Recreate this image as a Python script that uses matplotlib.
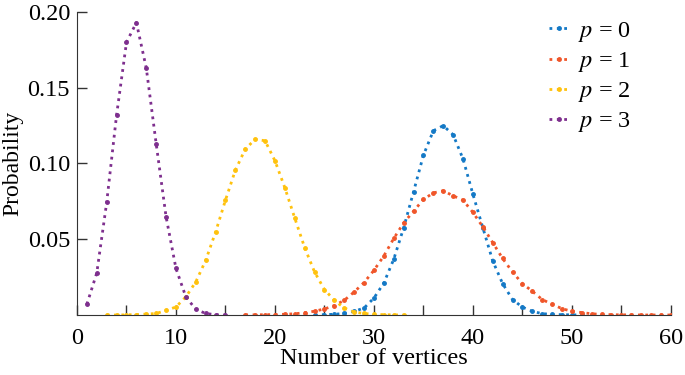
import numpy as np
import matplotlib
matplotlib.use('Agg')
import matplotlib.pyplot as plt

plt.rcParams['font.family'] = ['Liberation Serif', 'DejaVu Serif']
plt.rcParams['mathtext.fontset'] = 'stix'
plt.rcParams['font.size'] = 14

# p = 0 (blue)
x0 = list(range(24, 52))
y0 = [0.0001, 0.0002, 0.0005, 0.001, 0.0024, 0.0046, 0.0112, 0.0211, 0.0368, 0.0575,
      0.0813, 0.1055, 0.1216, 0.125, 0.119, 0.103, 0.0797, 0.0577, 0.0357, 0.0207,
      0.0102, 0.0052, 0.0024, 0.0009, 0.0004, 0.0002, 0.0001, 0.0]
# p = 1 (red)
x1 = list(range(17, 61))
y1 = [0.0001, 0.0001, 0.0002, 0.0003, 0.0005, 0.0008, 0.0015, 0.0025, 0.004, 0.0062,
      0.0097, 0.0152, 0.0214, 0.0295, 0.039, 0.0505, 0.0608, 0.0685, 0.0763, 0.0806,
      0.082, 0.0787, 0.0758, 0.0677, 0.0582, 0.0478, 0.0373, 0.0284, 0.0207, 0.0157,
      0.0102, 0.0071, 0.0042, 0.0024, 0.0016, 0.0008, 0.0004, 0.0002, 0.0001, 0.0001,
      0.0, 0.0, 0.0, 0.0]
# p = 2 (yellow)
x2 = list(range(3, 34))
y2 = [0.0, 0.0, 0.0001, 0.0003, 0.0006, 0.001, 0.003, 0.0053, 0.012, 0.0218,
      0.036, 0.0547, 0.0758, 0.0956, 0.1095, 0.116, 0.115, 0.1018, 0.084, 0.064,
      0.0445, 0.0284, 0.0168, 0.0097, 0.0046, 0.002, 0.001, 0.0005, 0.0002, 0.0001, 0.0]
# p = 3 (purple)
x3 = list(range(1, 16))
y3 = [0.0071, 0.0278, 0.0743, 0.132, 0.180, 0.193, 0.163, 0.113, 0.0648, 0.0307,
      0.0119, 0.0038, 0.001, 0.0002, 0.0]

colors = ['#1479C6', '#F0562A', '#FFC20E', '#7E2F8E']
labels = ['$p$ = 0', '$p$ = 1', '$p$ = 2', '$p$ = 3']

fig = plt.figure(figsize=(6.85, 3.75), dpi=100)
ax = fig.add_axes([0.1124, 0.16, 0.867, 0.808])

for xs, ys, c, lab in zip([x0, x1, x2, x3], [y0, y1, y2, y3], colors, labels):
    ax.plot(xs, ys, color=c, linestyle=':', linewidth=2, marker='.', markersize=5,
            label=lab)

ax.set_xlim(0, 60)
ax.set_ylim(0, 0.2)
ax.set_xticks(range(0, 61, 10))
ax.set_xticks(range(5, 60, 10), minor=True)
ax.set_yticks([0.05, 0.10, 0.15, 0.20])
ax.set_yticklabels(['0.05', '0.10', '0.15', '0.20'])
ax.tick_params(which='both', direction='in', length=7, width=1, color='#333333',
               labelsize=17.5, pad=5)
ax.tick_params(axis='x', which='both', pad=9)
for s in ['top', 'right']:
    ax.spines[s].set_visible(False)
for s in ['left', 'bottom']:
    ax.spines[s].set_color('#333333')
ax.set_xlabel('Number of vertices', fontsize=17.5, labelpad=0)
ax.set_ylabel('Probability', fontsize=17, labelpad=3)

ax.legend(loc='upper right', bbox_to_anchor=(0.97, 1.046), frameon=False, fontsize=17.5,
          handlelength=0.8, handletextpad=0.4, labelspacing=0.25)

fig.savefig('out.png', dpi=100)
